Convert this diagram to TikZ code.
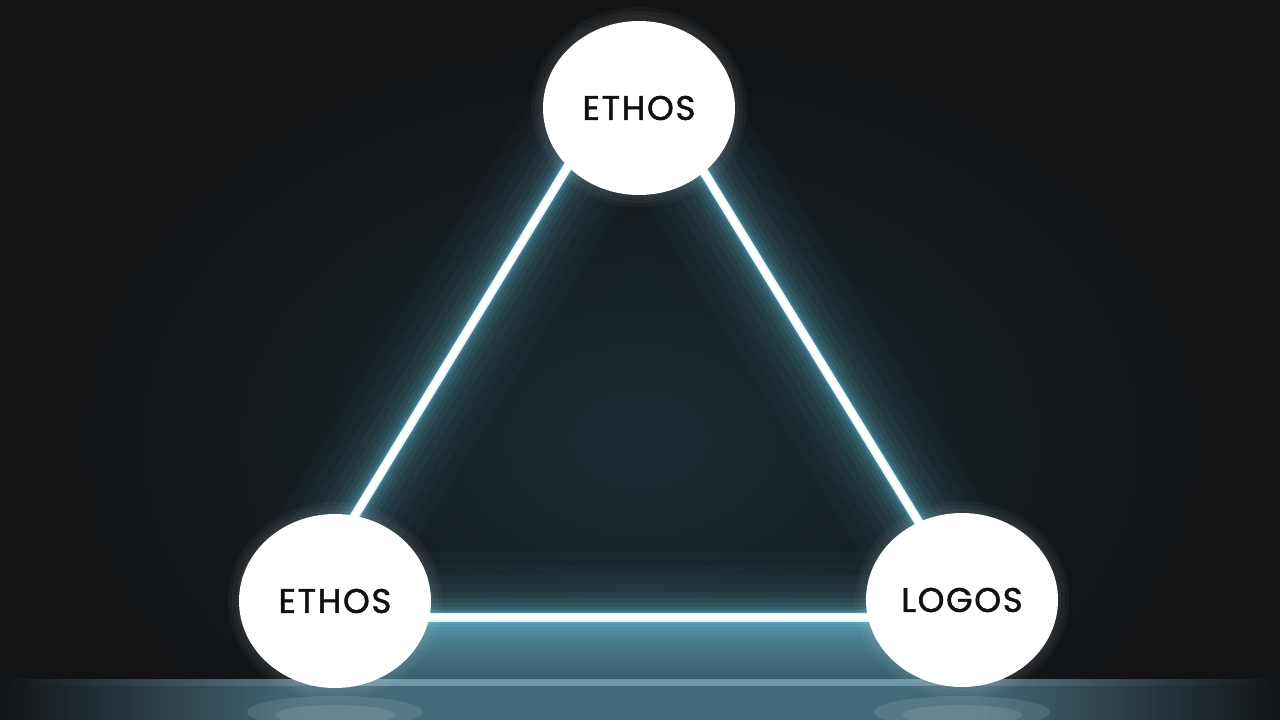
\documentclass[tikz,border=0pt]{standalone}
\usepackage{fontspec}
\newfontfamily\lblfont{Poppins}[FakeBold=1.6, LetterSpace=5]
\usetikzlibrary{shapes.geometric}
\definecolor{bgc}{HTML}{111315}
\definecolor{midc}{HTML}{1A2A31}
\definecolor{glowc}{HTML}{6CC6E2}
\definecolor{tealtop}{HTML}{4C7C8C}
\definecolor{tealbot}{HTML}{365A68}
\definecolor{floorc}{HTML}{44697A}
\definecolor{horizc}{HTML}{6C98A8}
\definecolor{inkc}{HTML}{111111}
\pgfdeclarehorizontalshading{floorsh}{100bp}{color(0bp)=(bgc); color(25bp)=(bgc); color(37bp)=(floorc); color(63bp)=(floorc); color(75bp)=(bgc); color(100bp)=(bgc)}
\pgfdeclarehorizontalshading{horizsh}{100bp}{color(0bp)=(bgc); color(25bp)=(bgc); color(40bp)=(horizc); color(60bp)=(horizc); color(75bp)=(bgc); color(100bp)=(bgc)}
\newcommand\glowseg[2]{%
  \foreach \w/\o in {130/0.03,104/0.035,84/0.04,66/0.05,50/0.06,38/0.08,28/0.1,20/0.13,14/0.2,10/0.35}{%
    \draw[glowc, line width=\w pt, opacity=\o] (#1) -- (#2);}
  \draw[white!80!glowc, line width=9pt] (#1) -- (#2);
  \draw[white, line width=6pt] (#1) -- (#2);}
\tikzset{
  orb/.style={ellipse, fill=white, inner sep=0pt, minimum width=192pt, minimum height=174pt,
    font=\lblfont\fontsize{34}{40}\selectfont, text=inkc},
  halo/.style={fill=white, opacity=0.035}
}
\begin{document}
\begin{tikzpicture}[x=1pt, y=-1pt]
\useasboundingbox (0,0) rectangle (1280,720);
% background
\fill[bgc] (0,0) rectangle (1280,720);
\shade[inner color=midc, outer color=bgc] (640,440) ellipse (560 and 400);
% teal zone under the bottom line
\shade[top color=tealtop, bottom color=tealbot] (300,617) rectangle (970,684);
% floor
\shade[shading=floorsh] (0,684) rectangle (1280,720);
\shade[shading=horizsh] (0,679) rectangle (1280,685);
% reflections
\fill[white, opacity=0.10] (335,712) ellipse (88 and 16);
\fill[white, opacity=0.10] (962,712) ellipse (88 and 16);
\fill[white, opacity=0.10] (335,715) ellipse (60 and 10);
\fill[white, opacity=0.10] (962,715) ellipse (60 and 10);
% triangle vertices
\coordinate (vA) at (634,58);
\coordinate (vB) at (293,617);
\coordinate (vC) at (977,617);
% glowing connectors
\glowseg{vA}{vB}
\glowseg{vA}{vC}
\glowseg{vB}{vC}
% halos
\foreach \d in {4,8,12}{
  \fill[halo] (639,107) ellipse ({96+\d} and {88+\d});
  \fill[halo] (335,601) ellipse ({95+\d} and {87+\d});
  \fill[halo] (962,600) ellipse ({95+\d} and {87+\d});
}
% nodes
\node[orb] (nTop) at (639,108) {ETHOS};
\node[orb] (nLeft) at (335,601) {ETHOS};
\node[orb] (nRight) at (962,600) {LOGOS};
\end{tikzpicture}
\end{document}
